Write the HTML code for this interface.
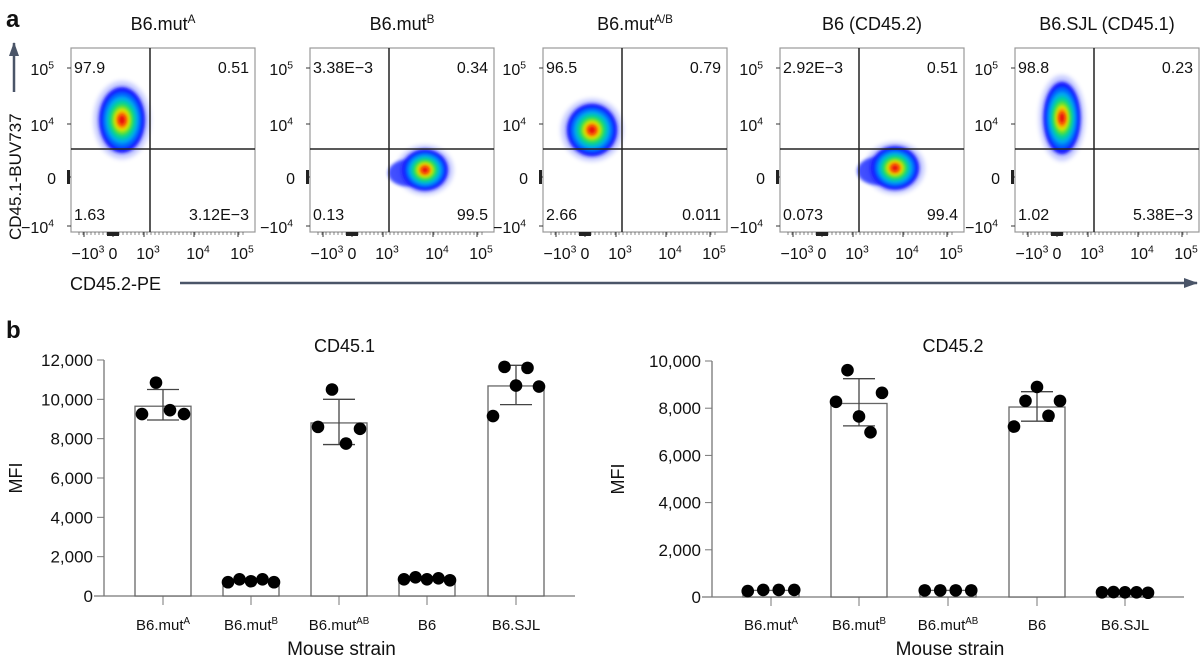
<!DOCTYPE html>
<html><head><meta charset="utf-8">
<style>
html,body{margin:0;padding:0;background:#fff;}
svg{display:block;font-family:"Liberation Sans",sans-serif;}
</style></head>
<body>
<svg id="fig" width="1200" height="662" viewBox="0 0 1200 662">
<defs>
<filter id="blur" x="-50%" y="-50%" width="200%" height="200%"><feGaussianBlur stdDeviation="2.5"/></filter>
<filter id="blur2" x="-50%" y="-50%" width="200%" height="200%"><feGaussianBlur stdDeviation="1.5"/></filter>
<marker id="arrR" markerUnits="userSpaceOnUse" markerWidth="14" markerHeight="10" refX="13" refY="5" orient="auto"><path d="M0,0 L14,5 L0,10 Z" fill="#4a5568"/></marker>
</defs>
<g id="panelA"></g>
<g id="panelB"></g>
</svg>
<script>
// ---------- Panel a data ----------
const flowTitles = ["B6.mut|A","B6.mut|B","B6.mut|A/B","B6 (CD45.2)","B6.SJL (CD45.1)"];
const qTopLeft = ["97.9","3.38E\u22123","96.5","2.92E\u22123","98.8"];
const qTopRight = ["0.51","0.34","0.79","0.51","0.23"];
const qBottomLeft = ["1.63","0.13","2.66","0.073","1.02"];
const qBottomRight = ["3.12E\u22123","99.5","0.011","99.4","5.38E\u22123"];
const clusterX = [51,115,49,115,47];
const clusterY = [72,122,82,120,70];
const clusterRX = [21,21,23,22,17];
const clusterRY = [30,19,24,20,33];

// ---------- Panel b data ----------
const strains = ["B6.mut|A","B6.mut|B","B6.mut|AB","B6","B6.SJL"];
const cd451Means = [9650,750,8800,900,10680];
const cd451Lo = [8950,650,7700,800,9730];
const cd451Hi = [10500,850,10000,1000,11730];
const cd451Pts = [[9250,10850,9450,9250],[700,850,750,850,700],[8600,10500,7750,8500],[850,950,850,900,800],[9150,11650,10700,11600,10650]];
const cd451Ticks = [0,2000,4000,6000,8000,10000,12000];
const cd452Means = [280,8200,280,8050,200];
const cd452Lo = [280,7250,280,7450,200];
const cd452Hi = [280,9250,280,8700,200];
const cd452Pts = [[250,300,300,300],[8270,9610,7650,6980,8650],[280,280,280,280],[7220,8310,8900,7680,8310],[200,210,200,200,180]];
const cd452Ticks = [0,2000,4000,6000,8000,10000];

const NS="http://www.w3.org/2000/svg";
function el(tag, attrs, parent){const e=document.createElementNS(NS,tag);for(const k in attrs)e.setAttribute(k,attrs[k]);parent.appendChild(e);return e;}
function txt(parent,x,y,s,size,anchor,name,extra){
  const t=el('text',{x:x,y:y,'font-size':size,'text-anchor':anchor||'start',fill:'#111'},parent);
  
  
  if(extra)for(const k in extra)t.setAttribute(k,extra[k]);
  const parts=s.split('|');
  t.appendChild(document.createTextNode(parts[0]));
  if(parts[1]){const sp=el('tspan',{'font-size':size*0.65,dy:-size*0.4},t);sp.textContent=parts[1];}
  return t;
}
function supTick(parent,x,y,base,exp,size,anchor,name){
  const t=el('text',{x:x,y:y,'font-size':size,'text-anchor':anchor,fill:'#111'},parent);
  
  
  t.appendChild(document.createTextNode(base));
  if(exp){const sp=el('tspan',{'font-size':size*0.65,dy:-size*0.42},t);sp.textContent=exp;}
}

// ---------- Panel a ----------
const A=document.getElementById('panelA');
txt(A,6,27,"a",24,'start','panel-a-label',{'font-weight':'bold'});
const plotLeft=[71,310,543,780,1015], plotTop=48, W=184, H=184, qx=79, qy=101;
const colors=["#1414ff","#0060ff","#00a8f0","#00d0a0","#50e040","#d8e800","#ff8800","#e81010"];
const scales=[1.1,0.95,0.8,0.66,0.52,0.4,0.28,0.17];
plotLeft.forEach((L,i)=>{
  const g=el('g',{},A);
  
  
  txt(g,L+W/2,30,flowTitles[i],18,'middle','flow-title-'+(i+1));
  const cg=el('g',{},g);
  
  
  const cx=L+clusterX[i], cy=plotTop+clusterY[i], rx=clusterRX[i], ry=clusterRY[i];
  el('ellipse',{cx:cx,cy:cy,rx:rx*1.35,ry:ry*1.3,fill:'#4050ff',opacity:0.3,filter:'url(#blur)'},cg);
  if(i===1||i===3){el('ellipse',{cx:cx-18,cy:cy+3,rx:rx*0.9,ry:ry*0.7,fill:'#2030ff',opacity:0.85,filter:'url(#blur2)'},cg);}
  colors.forEach((c,k)=>{
    el('ellipse',{cx:cx,cy:cy,rx:rx*scales[k],ry:ry*scales[k],fill:c,filter:'url(#blur2)'},cg);
  });
  const fr=el('rect',{x:L,y:plotTop,width:W,height:H,fill:'none',stroke:'#999','stroke-width':1.2},g);
  
  
  const gv=el('line',{x1:L+qx,y1:plotTop,x2:L+qx,y2:plotTop+H,stroke:'#222','stroke-width':1.5},g);
  
  
  const gh=el('line',{x1:L,y1:plotTop+qy,x2:L+W,y2:plotTop+qy,stroke:'#222','stroke-width':1.5},g);
  
  
  txt(g,L+3,plotTop+25,qTopLeft[i],16,'start','quadrant-top-left-value');
  txt(g,L+W-6,plotTop+25,qTopRight[i],16,'end','quadrant-top-right-value');
  txt(g,L+3,plotTop+H-12,qBottomLeft[i],16,'start','quadrant-bottom-left-value');
  txt(g,L+W-6,plotTop+H-12,qBottomRight[i],16,'end','quadrant-bottom-right-value');
  const yt=[["10","5",68],["10","4",124],["0","",177],["\u221210","4",226]];
  yt.forEach(t=>{
    el('line',{x1:L-4,y1:t[2],x2:L,y2:t[2],stroke:'#333'},g);
    supTick(g,t[1]?L-17:L-15,t[2]+7,t[0],t[1],16,'end','y-tick-label');
  });
  el('rect',{x:L-4,y:170,width:3,height:14,fill:'#222'},g);
  const xt=[["\u221210","3",13],["0","",42],["10","3",73],["10","4",123],["10","5",167]];
  xt.forEach(t=>{
    el('line',{x1:L+t[2],y1:plotTop+H,x2:L+t[2],y2:plotTop+H+5,stroke:'#333'},g);
    supTick(g,L+t[2]+(t[1]?4:0),plotTop+H+27,t[0],t[1],16,'middle','x-tick-label');
  });
  for(let m=8;m<175;m+=4){el('line',{x1:L+m,y1:plotTop+H,x2:L+m,y2:plotTop+H+3,stroke:'#555','stroke-width':0.7},g);}
  el('rect',{x:L+36,y:plotTop+H,width:12,height:4,fill:'#222'},g);
});
txt(A,21,240,"CD45.1-BUV737",17,'start','y-axis-title-cd45-1',{transform:'rotate(-90 21 240)'});
el('line',{x1:14,y1:92,x2:14,y2:43,stroke:'#4a5568','stroke-width':2.5,'marker-end':'url(#arrR)'},A);
txt(A,70,290,"CD45.2-PE",18,'start','x-axis-title-cd45-2');
el('line',{x1:180,y1:283,x2:1197,y2:283,stroke:'#4a5568','stroke-width':2.5,'marker-end':'url(#arrR)'},A);

// ---------- Panel b ----------
const B=document.getElementById('panelB');
txt(B,6,338,"b",24,'start','panel-b-label',{'font-weight':'bold'});
function barChart(id,ax0,axEnd,y0,yTop,maxV,ticks,means,lo,hi,pts,centers,title,mfiX){
  const g=el('g',{},B);
  
  
  const yS=v=>y0-(v/maxV)*(y0-yTop);
  txt(g,(ax0+axEnd)/2+5,352,title,18,'middle','chart-title');
  el('line',{x1:ax0,y1:yTop,x2:ax0,y2:y0,stroke:'#777','stroke-width':1.3},g);
  el('line',{x1:ax0-10,y1:y0,x2:axEnd,y2:y0,stroke:'#777','stroke-width':1.3},g);
  ticks.forEach(t=>{
    el('line',{x1:ax0-7,y1:yS(t),x2:ax0,y2:yS(t),stroke:'#777'},g);
    txt(g,ax0-11,yS(t)+6,t.toLocaleString('en-US'),17,'end','y-tick-label');
  });
  txt(g,mfiX,(y0+yTop)/2,"MFI",18,'middle','y-axis-title',{transform:'rotate(-90 '+mfiX+' '+((y0+yTop)/2)+')'});
  txt(g,(ax0+axEnd)/2+2,655,"Mouse strain",19,'middle','x-axis-title');
  means.forEach((m,i)=>{
    const c=centers[i];
    el('line',{x1:c,y1:y0,x2:c,y2:y0+9,stroke:'#777'},g);
    txt(g,c,630,strains[i],15,'middle','x-tick-label');
    const bar=el('rect',{x:c-28,y:yS(m),width:56,height:y0-yS(m),fill:'#fff',stroke:'#666','stroke-width':1.3},g);
    
    
    if(hi[i]-lo[i]>300){
      el('line',{x1:c,y1:yS(lo[i]),x2:c,y2:yS(hi[i]),stroke:'#444','stroke-width':1.3},g);
      el('line',{x1:c-16,y1:yS(lo[i]),x2:c+16,y2:yS(lo[i]),stroke:'#444','stroke-width':1.3},g);
      el('line',{x1:c-16,y1:yS(hi[i]),x2:c+16,y2:yS(hi[i]),stroke:'#444','stroke-width':1.3},g);
    }
    const n=pts[i].length;
    const sp = n===4 ? (m<2000?15.5:14) : 11.5;
    pts[i].forEach((v,k)=>{
      const d=el('circle',{cx:c+(k-(n-1)/2)*sp,cy:yS(v),r:6.3,fill:'#000'},g);
      
      
    });
  });
}
barChart('cd45-1-bar-chart',104,575,596,360,12000,cd451Ticks,cd451Means,cd451Lo,cd451Hi,cd451Pts,[163,251,339,427,516],"CD45.1",22);
barChart('cd45-2-bar-chart',712,1184,597,361,10000,cd452Ticks,cd452Means,cd452Lo,cd452Hi,cd452Pts,[771,859,948,1037,1125],"CD45.2",624);
</script>
</body></html>
